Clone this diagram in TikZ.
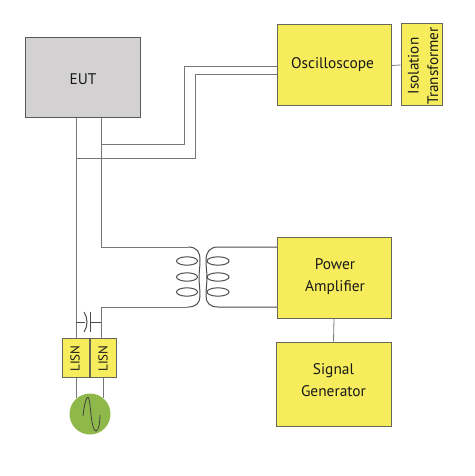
\documentclass[tikz,border=0pt]{standalone}
\usepackage{fontspec}
\setmainfont{PT Sans}
\definecolor{boxy}{HTML}{F6EC5C}
\definecolor{boxg}{HTML}{D3D1D2}
\definecolor{edgeg}{HTML}{66665A}
\definecolor{wire}{HTML}{77777A}
\definecolor{sourceg}{HTML}{8FB84A}
\tikzset{
  x=1pt,y=-1pt,
  ybox/.style={draw=edgeg,line width=1pt,fill=boxy,inner sep=0pt,align=center},
  gbox/.style={ybox,fill=boxg,draw=black!65},
  wireline/.style={draw=wire,line width=1pt},
  coil/.style={draw=black!70,line width=1pt},
  label/.style={align=center,inner sep=0pt,font=\fontsize{15.4}{22}\selectfont,text=black!90},
  vlabel/.style={rotate=90,inner sep=0pt,align=center,font=\fontsize{15.2}{19.5}\selectfont,text=black!90},
  lisnlabel/.style={rotate=90,inner sep=0pt,font=\fontsize{13}{14}\selectfont,text=black!90}
}
\begin{document}
\begin{tikzpicture}
\useasboundingbox (0,0) rectangle (474,476);
% connectors first
\coordinate (eutL) at (76,118);
\coordinate (eutR) at (101,118);
\coordinate (lisnLt) at (76,338);
\coordinate (lisnRt) at (101,338);
\coordinate (tap1) at (101,144);
\coordinate (tap2) at (76,158);
\coordinate (scope1) at (277,67);
\coordinate (scope2) at (277,75);
\coordinate (capL) at (76,322);
\coordinate (capR) at (101,322);
\coordinate (ampT) at (277,247);
\coordinate (ampB) at (277,307);
\draw[wireline] (eutL) -- (lisnLt);
\draw[wireline] (eutR) -- (101,247) -- (188,247);
\draw[wireline] (lisnRt) -- (101,307) -- (188,307);
\draw[wireline] (tap1) -- (184,144) -- (184,67) -- (scope1);
\draw[wireline] (tap2) -- (195,158) -- (195,75) -- (scope2);
% capacitor
\draw[coil] (capL) -- (85,322) (90,322) -- (capR);
\draw[coil] (84,312) .. controls (88,318) and (88,326) .. (84,332);
\draw[coil] (90,312) -- (90,332);
% transformer
\draw[coil] (188,247) .. controls (197,247) and (200,252) .. (200,260)
  .. controls (200,268) and (199,272) .. (199,277) .. controls (199,283) and (200,288) .. (200,296)
  .. controls (200,303) and (196,307) .. (188,307);
\draw[coil] (ampT) -- (218,247) .. controls (210,247) and (206,252) .. (206,260)
  .. controls (206,268) and (207,272) .. (207,277) .. controls (207,283) and (206,288) .. (206,296)
  .. controls (206,303) and (210,307) .. (218,307) -- (ampB);
\foreach \yy in {261,277,292} {
  \draw[coil] (187,\yy) ellipse [x radius=10.5,y radius=4.2];
  \draw[coil] (218,\yy) ellipse [x radius=11,y radius=4.2];
}
% boxes
\node[gbox,minimum width=115pt,minimum height=80pt] (eut) at (82.5,78) {};
\node[label] (euttext) at (83,79) {EUT};
\node[ybox,minimum width=114pt,minimum height=81pt] (scope) at (334,65.5) {};
\node[label] (scopetext) at (332.5,65) {Oscilloscope};
\node[ybox,minimum width=41pt,minimum height=82pt] (iso) at (421.5,65) {};
\node[vlabel] (isotext) at (423,66) {Isolation\\Transformer};
\node[ybox,minimum width=114pt,minimum height=81pt] (amp) at (334,277.5) {};
\node[label] (amptext) at (335,276.5) {Power\\Amplifier};
\node[ybox,minimum width=115pt,minimum height=84pt] (gen) at (333.5,384) {};
\node[label] (gentext) at (333.5,380) {Signal\\Generator};
\draw[wireline,line width=.8pt] (scope.east) -- (iso.west);
\draw[wireline,line width=.8pt] (amp.south) -- (gen.north);
\node[ybox,minimum width=27pt,minimum height=39pt] (lisnA) at (75.5,358) {};
\node[ybox,minimum width=26pt,minimum height=39pt] (lisnB) at (103,358) {};
\node[lisnlabel] (la) at (75,358.5) {LISN};
\node[lisnlabel] (lb) at (103,358.5) {LISN};
% source
\node[circle,fill=sourceg,minimum size=41pt,inner sep=0pt] (src) at (90,414) {};
\coordinate (srcL) at (76,398);
\coordinate (srcR) at (103,398);
\draw[wireline] (lisnA.south -| srcL) -- (srcL);
\draw[wireline] (lisnB.south) -- (srcR);
\draw[black!75,line width=.8pt] (83,416) .. controls (84,405) and (87,393) .. (89,399)
  .. controls (91,407) and (91,430) .. (96,431) .. controls (99,431) and (100,420) .. (100,415);
\end{tikzpicture}
\end{document}
